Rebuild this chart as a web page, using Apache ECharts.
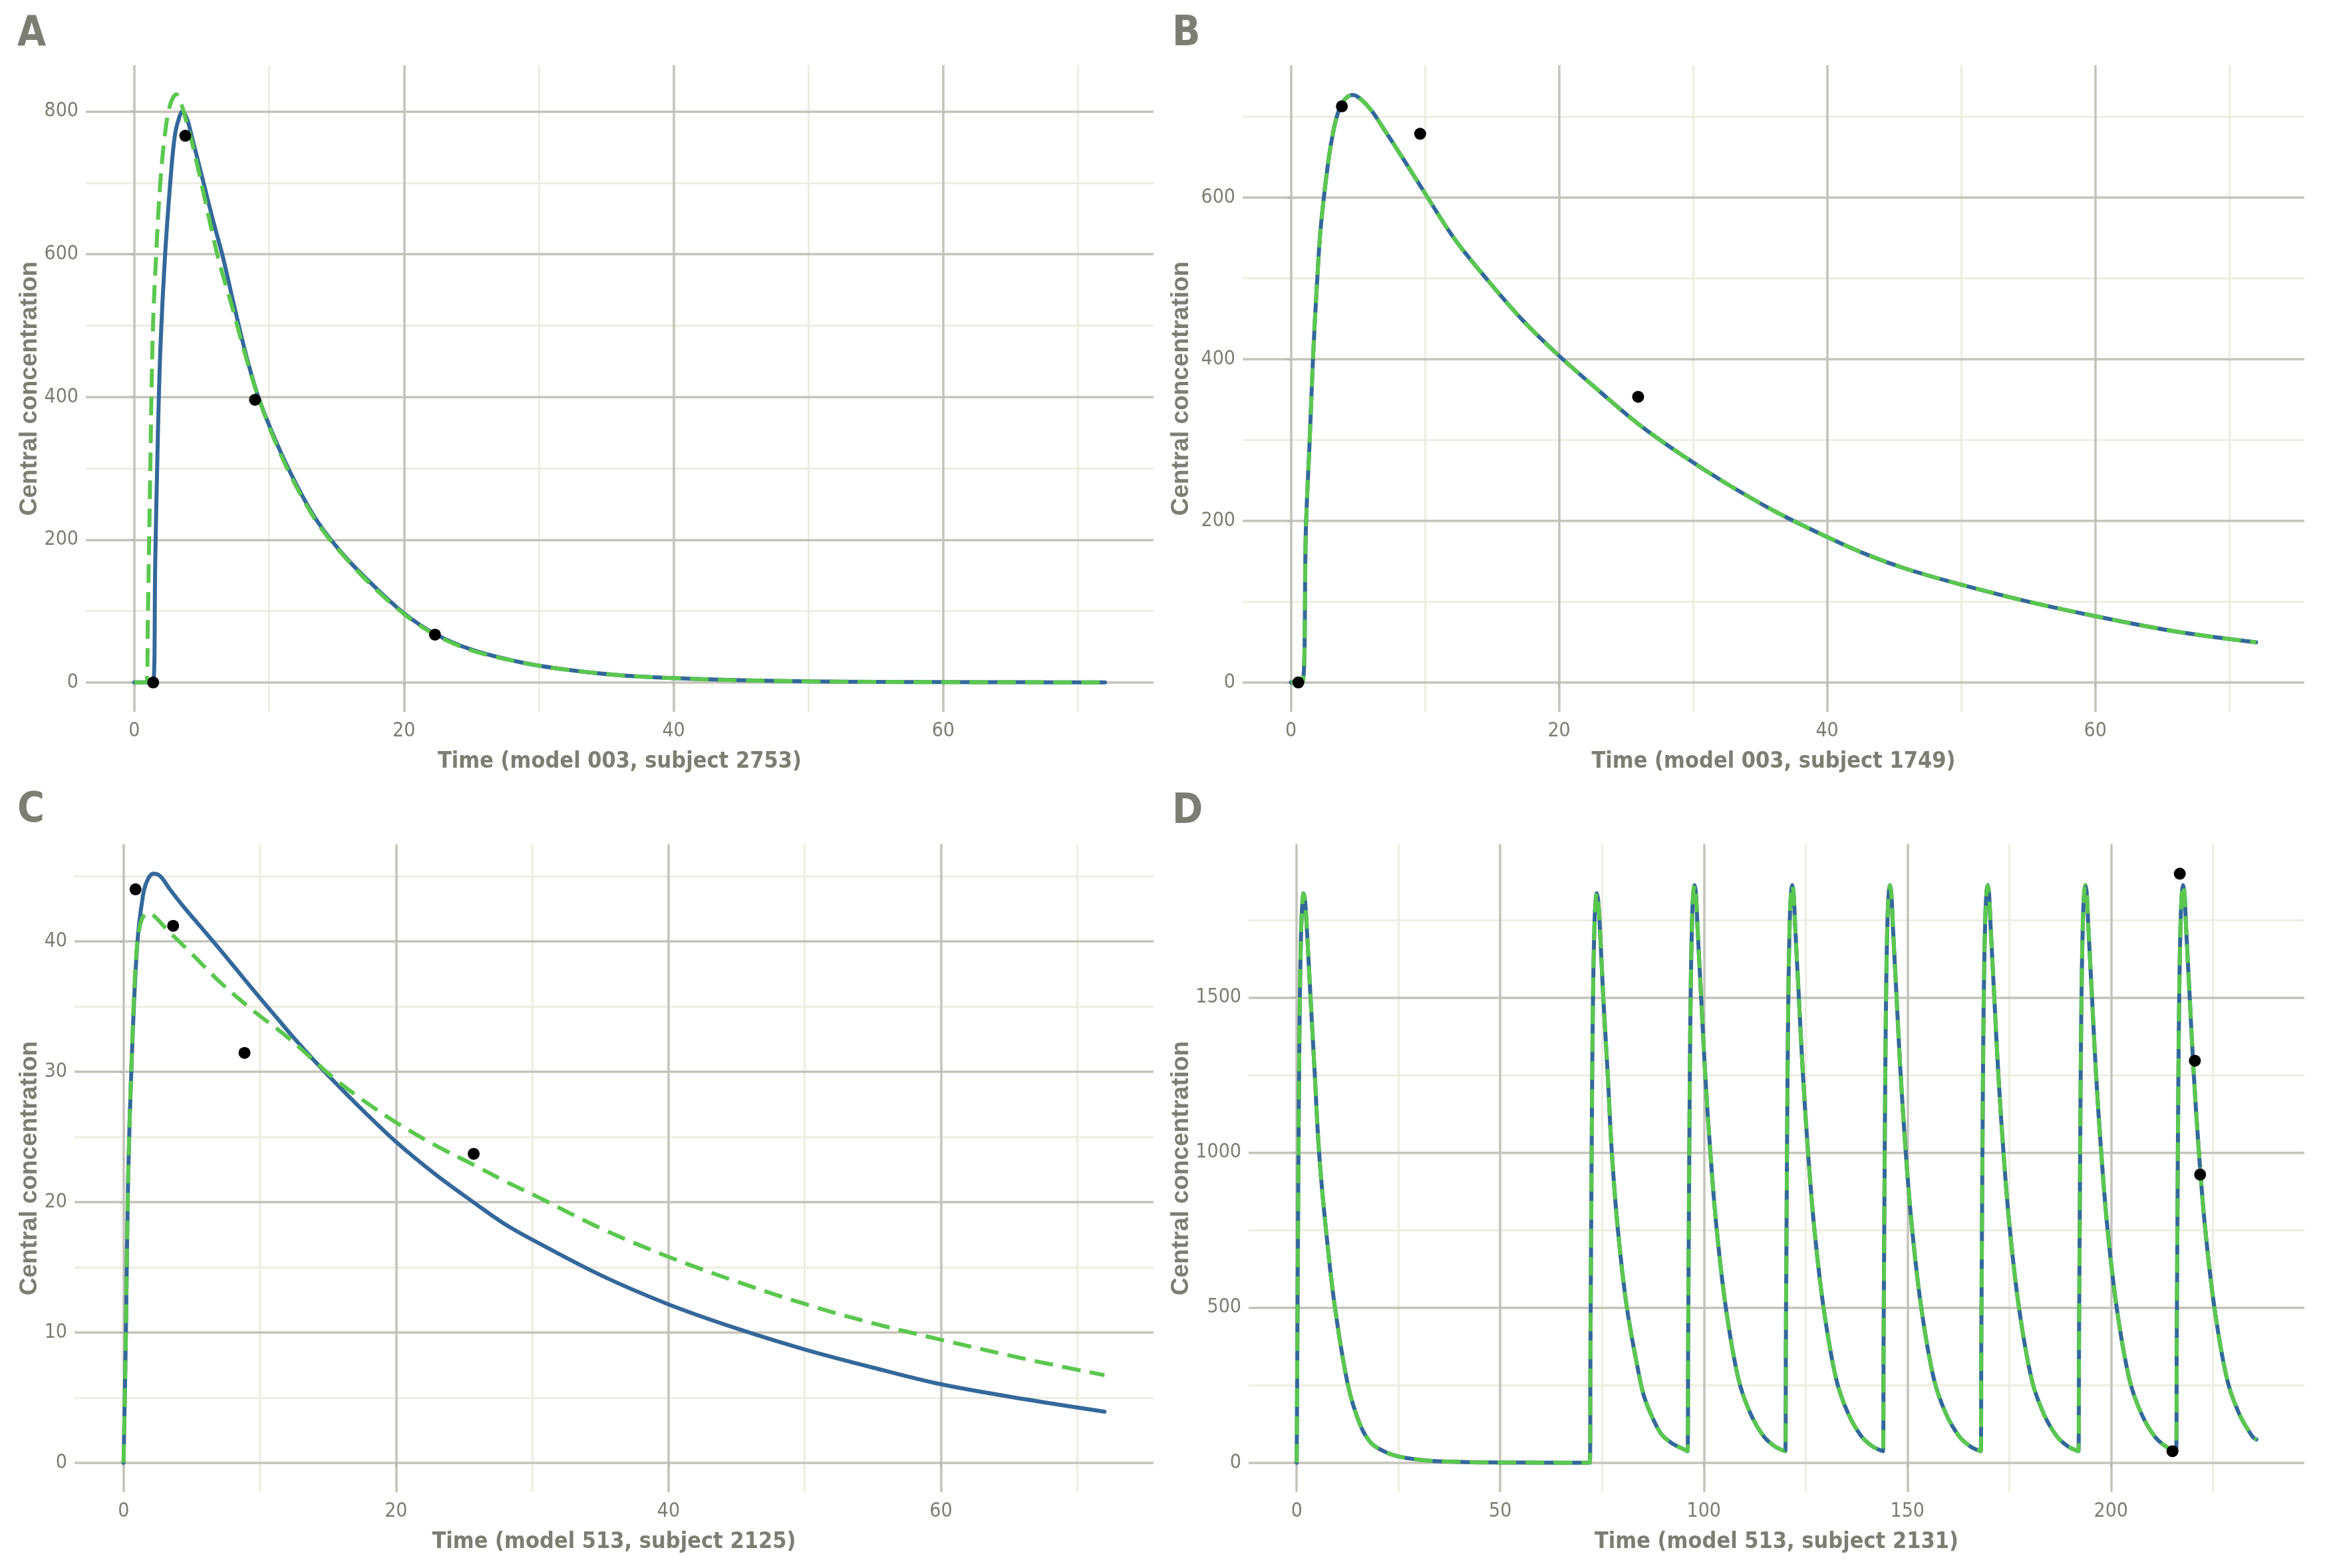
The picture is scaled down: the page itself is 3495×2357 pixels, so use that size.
<!DOCTYPE html>
<html><head><meta charset="utf-8">
<script src="https://cdn.jsdelivr.net/npm/echarts@6/dist/echarts.min.js"></script>
<style>html,body{margin:0;padding:0;background:#fff}#c{width:3495px;height:2357px}</style>
</head><body><div id="c"></div>
<script>
// ---------------- DATA ----------------
// Panel A (model 003, subject 2753)
const aPred = [[0,0],[1.0,0],[1.39,0],[1.55,170],[1.75,350],[1.94,472],[2.27,596],[2.68,704],[3.0,766],[3.3,790],[3.56,800],[3.9,790],[4.25,766],[5.08,704],[5.8,650],[6.57,596],[7.4,528],[8.3,458],[9.2,400],[10.5,338],[12.0,278],[13.6,225],[15.5,179],[17.5,140],[20.0,97],[22.3,68],[25.0,46],[28.7,28],[32.0,18],[36.0,10],[40.0,6],[45.0,3],[50.0,1.5],[55.0,0.8],[60.0,0.4],[66.0,0.2],[72.0,0.1]];
const aIpred = [[0,0],[0.9,0],[1.0,90],[1.15,260],[1.36,484],[1.61,596],[1.94,704],[2.35,780],[2.7,812],[3.1,824],[3.45,812],[3.8,790],[4.3,755],[5.2,680],[6.2,596],[7.2,530],[8.14,465],[9.1,405],[10.5,335],[12.0,275],[13.6,223],[15.5,178],[17.5,138],[20.0,96],[22.3,67],[25.0,45],[28.7,28],[32.0,18],[36.0,10],[40.0,6],[45.0,3],[50.0,1.5],[55.0,0.8],[60.0,0.4],[66.0,0.2],[72.0,0.1]];
const aObs = [[1.4,0],[3.78,766],[8.95,396],[22.3,67]];

// Panel B (model 003, subject 1749) - both curves coincide
const bPred = [[0,0],[0.84,0],[1.12,192],[1.4,300],[1.67,409],[1.95,495],[2.23,564],[2.79,645],[3.2,685],[3.62,710],[4.1,723],[4.63,727],[5.2,722],[6.0,708],[6.97,684],[8.3,650],[9.75,612],[12.2,549],[14.77,496],[17.3,448],[19.95,405],[22.9,362],[25.9,320],[29.2,281],[32.6,245],[36.3,210],[40.0,180],[43.0,158],[46.0,140],[50.0,121],[55.0,100],[60.0,82],[66.0,63],[72.0,49.6]];
const bIpred = bPred;
const bObs = [[0.55,0],[3.8,713],[9.64,679],[25.9,353.5]];

// Panel C (model 513, subject 2125)
const cPred = [[0,0],[0.17,9.8],[0.33,21.5],[0.61,31.2],[1.0,39.7],[1.44,43.6],[1.8,44.8],[2.21,45.2],[2.7,45.0],[3.4,44.0],[4.3,42.8],[5.6,41.2],[7.06,39.4],[8.4,37.7],[9.82,35.9],[11.2,34.2],[12.58,32.5],[14.0,30.85],[15.5,29.2],[17.6,27.0],[20.02,24.6],[22.8,22.2],[25.8,19.9],[28.0,18.3],[30.2,17.0],[35.0,14.4],[40.0,12.15],[45.0,10.3],[50.1,8.66],[55.0,7.3],[60.0,6.02],[66.0,4.9],[72.0,3.92]];
const cIpred = [[0,0],[0.17,9.8],[0.33,21.5],[0.61,31.5],[0.9,38.5],[1.2,41.2],[1.5,42.0],[1.82,42.2],[2.3,41.9],[3.29,40.8],[4.77,39.3],[7.06,36.9],[9.5,34.7],[12.1,32.6],[15.33,29.6],[17.6,27.8],[20.02,26.1],[22.8,24.4],[25.8,22.8],[28.0,21.6],[30.2,20.5],[35.0,18.0],[40.0,15.8],[45.0,13.9],[50.1,12.15],[55.0,10.7],[60.0,9.44],[66.0,8.0],[72.0,6.72]];
const cObs = [[0.88,44.0],[3.64,41.2],[8.88,31.45],[25.7,23.7]];

// Panel D (model 513, subject 2131) - both curves coincide
const dPred = [
 [0,0],[0.15,350],[0.3,700],[0.55,1200],[0.8,1520],[1.1,1720],[1.4,1805],[1.7,1836],[2.05,1812],[2.5,1720],[3.4,1500],[4.45,1250],[5.5,1000],[7.2,750],[9.4,500],[12.6,250],[15.6,122],[18.4,62],[22.2,32],[25,20],[28,13],[32,7],[36,4],[40,2.4],[45,1.2],[50,0.5],[56,0.2],[72,0],
 [72.15,350],[72.3,700],[72.55,1200],[72.8,1520],[73.1,1720],[73.4,1808],[73.7,1836],[74.05,1812],[74.5,1715],[75.3,1500],[76.4,1250],[77.4,1000],[78.9,750],[81.1,500],[84.6,250],[86.0,188],[89.35,96],[92.1,63],[95.4,41],[96,37],
 [96.15,390],[96.3,730],[96.55,1230],[96.8,1545],[97.1,1745],[97.4,1835],[97.7,1862],[98.05,1835],[98.45,1725],[99.3,1510],[100.3,1260],[101.6,1000],[103.1,760],[105.4,500],[108.5,270],[111.4,160],[114.7,85],[117.5,52],[120,37],
 [120.15,390],[120.3,730],[120.55,1230],[120.8,1545],[121.1,1745],[121.4,1835],[121.7,1862],[122.05,1835],[122.45,1725],[123.3,1510],[124.3,1260],[125.6,1000],[127.1,760],[129.4,500],[132.5,270],[135.4,160],[138.7,85],[141.5,52],[144,37],
 [144.15,390],[144.3,730],[144.55,1230],[144.8,1545],[145.1,1745],[145.4,1835],[145.7,1862],[146.05,1835],[146.45,1725],[147.3,1510],[148.3,1260],[149.6,1000],[151.1,760],[153.4,500],[156.5,270],[159.4,160],[162.7,85],[165.5,52],[168,37],
 [168.15,390],[168.3,730],[168.55,1230],[168.8,1545],[169.1,1745],[169.4,1835],[169.7,1862],[170.05,1835],[170.45,1725],[171.3,1510],[172.3,1260],[173.6,1000],[175.1,760],[177.4,500],[180.5,270],[183.4,160],[186.7,85],[189.5,52],[192,37],
 [192.15,390],[192.3,730],[192.55,1230],[192.8,1545],[193.1,1745],[193.4,1835],[193.7,1862],[194.05,1835],[194.45,1725],[195.3,1510],[196.3,1260],[197.6,1000],[199.1,760],[201.4,500],[204.5,270],[207.4,160],[210.7,85],[213.5,52],[216,37],
 [216.15,390],[216.3,730],[216.55,1230],[216.8,1545],[217.1,1745],[217.4,1835],[217.7,1862],[218.05,1835],[218.45,1725],[219.3,1510],[220.3,1260],[221.6,1000],[223.1,760],[225.4,500],[228.5,270],[231.4,160],[234.7,85],[235.7,75]
];
const dIpred = dPred;
const dObs = [[215.1,37],[216.9,1899],[220.6,1296],[221.9,929]];

// Tick values
const xTicks72 = [0,20,40,60];
const xMinor72 = [10,30,50,70];
const aYTicks = [0,200,400,600,800];
const aYMinor = [100,300,500,700];
const bYTicks = [0,200,400,600];
const bYMinor = [100,300,500,700];
const cYTicks = [0,10,20,30,40];
const cYMinor = [5,15,25,35,45];
const dXTicks = [0,50,100,150,200];
const dXMinor = [25,75,125,175,225];
const dYTicks = [0,500,1000,1500];
const dYMinor = [250,750,1250,1750];

const panelLetters = ['A','B','C','D'];
const xTitles = ['Time (model 003, subject 2753)','Time (model 003, subject 1749)','Time (model 513, subject 2125)','Time (model 513, subject 2131)'];
const yTitle = 'Central concentration';

// ---------------- LAYOUT / STYLE ----------------
const TXT = '#7d7d73';
const BLUE = '#33689a';
const GREEN = '#5ac84e';
const NARROW = '"Liberation Sans Narrow","DejaVu Sans Condensed","Roboto Condensed","Liberation Sans",Roboto,sans-serif';
const WIDE = '"Liberation Sans",Arial,"DejaVu Sans",sans-serif';

const panels = [
  {grid:{left:129, top:98, width:1605, height:972}, x:[-3.6,75.6], y:[-41.2,864.9], xT:xTicks72, xM:xMinor72, yT:aYTicks, yM:aYMinor, pred:aPred, ipred:aIpred, obs:aObs, letter:[26,55], ytl:[45,584]},
  {grid:{left:1868, top:98, width:1596, height:972}, x:[-3.6,75.6], y:[-36.4,763.9], xT:xTicks72, xM:xMinor72, yT:bYTicks, yM:bYMinor, pred:bPred, ipred:bIpred, obs:bObs, letter:[1762,55], ytl:[1776,584]},
  {grid:{left:112, top:1269, width:1622, height:974}, x:[-3.6,75.6], y:[-2.26,47.46], xT:xTicks72, xM:xMinor72, yT:cYTicks, yM:cYMinor, pred:cPred, ipred:cIpred, obs:cObs, letter:[26,1222], ytl:[45,1756]},
  {grid:{left:1877, top:1269, width:1587, height:974}, x:[-11.8,247.5], y:[-95,1994], xT:dXTicks, xM:dXMinor, yT:dYTicks, yM:dYMinor, pred:dPred, ipred:dIpred, obs:dObs, letter:[1762,1224], ytl:[1776,1756]}
];

const grids = [], xAxes = [], yAxes = [], series = [], graphics = [];
panels.forEach((p, i) => {
  grids.push(Object.assign({containLabel:false}, p.grid));
  xAxes.push({
    gridIndex:i, type:'value', min:p.x[0], max:p.x[1],
    axisLine:{show:false}, splitLine:{show:false},
    axisTick:{show:true, customValues:p.xT, length:6, lineStyle:{color:'#b8b8ae', width:3}},
    axisLabel:{customValues:p.xT, color:TXT, fontFamily:NARROW, fontSize:30, margin:14, formatter:v=>String(v)},
    name:xTitles[i], nameLocation:'middle', nameGap:58,
    nameTextStyle:{color:TXT, fontFamily:NARROW, fontWeight:'bold', fontSize:34}
  });
  yAxes.push({
    gridIndex:i, type:'value', min:p.y[0], max:p.y[1],
    axisLine:{show:false}, splitLine:{show:false},
    axisTick:{show:true, customValues:p.yT, length:6, lineStyle:{color:'#b8b8ae', width:3}},
    axisLabel:{customValues:p.yT, color:TXT, fontFamily:NARROW, fontSize:30, margin:11, formatter:v=>String(v)}
  });
  const maj = {color:'#c3c3b9', width:3.5, type:'solid'};
  const mn = {color:'#ededE1', width:3, type:'solid'};
  const d = [];
  p.xM.forEach(v=>d.push({xAxis:v, lineStyle:mn}));
  p.yM.forEach(v=>d.push({yAxis:v, lineStyle:mn}));
  p.xT.forEach(v=>d.push({xAxis:v, lineStyle:maj}));
  p.yT.forEach(v=>d.push({yAxis:v, lineStyle:maj}));
  series.push({type:'line', xAxisIndex:i, yAxisIndex:i, data:[], silent:true, z:0,
    markLine:{silent:true, z:0, symbol:['none','none'], label:{show:false}, emphasis:{disabled:true}, animation:false, data:d}});
  series.push({type:'line', xAxisIndex:i, yAxisIndex:i, data:p.pred, showSymbol:false, smooth:0.35, z:3,
    lineStyle:{color:BLUE, width:6, cap:'round', join:'round'}});
  series.push({type:'line', xAxisIndex:i, yAxisIndex:i, data:p.ipred, showSymbol:false, smooth:0.35, z:4,
    lineStyle:{color:GREEN, width:6, type:[28,14]}});
  series.push({type:'scatter', xAxisIndex:i, yAxisIndex:i, data:p.obs, symbol:'circle', symbolSize:18, z:6,
    itemStyle:{color:'#000000', opacity:1}});
  graphics.push({type:'text', left:p.letter[0], top:p.letter[1]-34,
    style:{text:panelLetters[i], fill:TXT, fontFamily:NARROW, fontWeight:'bold', fontSize:62}});
  graphics.push({type:'text', x:p.ytl[0], y:p.ytl[1], rotation:Math.PI/2,
    style:{text:yTitle, fill:TXT, fontFamily:WIDE, fontWeight:'bold', fontSize:37, align:'center', verticalAlign:'middle'}});
});

const chart = echarts.init(document.getElementById('c'), null, {renderer:'canvas', width:3495, height:2357});
chart.setOption({
  backgroundColor:'#ffffff', animation:false,
  grid:grids, xAxis:xAxes, yAxis:yAxes, series:series, graphic:graphics
});
</script></body></html>
